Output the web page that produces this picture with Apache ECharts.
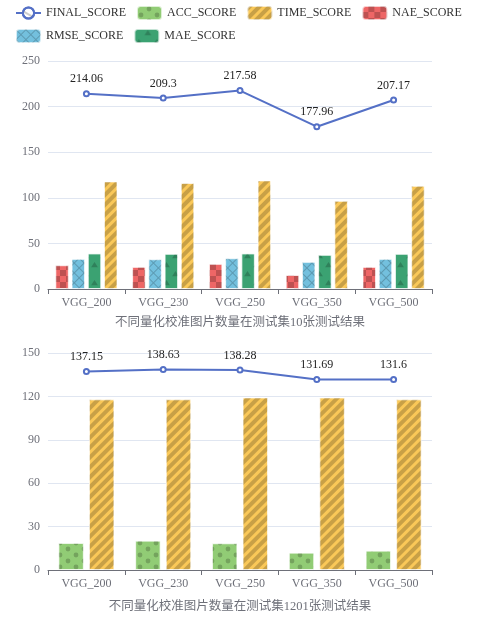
<!DOCTYPE html>
<html>
<head>
<meta charset="utf-8">
<script src="https://cdn.jsdelivr.net/npm/echarts@6/dist/echarts.min.js"></script>
<style>
html,body{margin:0;padding:0;background:#fff;}
#chart{width:480px;height:632px;}
</style>
</head>
<body>
<div id="chart"></div>
<script>
var categories = ['VGG_200', 'VGG_230', 'VGG_250', 'VGG_350', 'VGG_500'];
var legendRow1 = ['FINAL_SCORE', 'ACC_SCORE', 'TIME_SCORE', 'NAE_SCORE'];
var legendRow2 = ['RMSE_SCORE', 'MAE_SCORE'];

// Test set of 10 images (top chart)
var final10 = [214.06, 209.3, 217.58, 177.96, 207.17];
var nae10 = [26.1, 24.3, 27.6, 15.4, 24.3];
var rmse10 = [33.1, 32.7, 33.8, 29.8, 33.1];
var mae10 = [39.0, 38.6, 39.0, 37.5, 38.6];
var time10 = [118.0, 116.2, 119.1, 96.7, 113.2];

// Test set of 1201 images (bottom chart)
var final1201 = [137.15, 138.63, 138.28, 131.69, 131.6];
var acc1201 = [18.7, 20.3, 18.5, 12.0, 13.4];
var time1201 = [118.0, 118.0, 119.3, 119.3, 118.0];

var title10 = '不同量化校准图片数量在测试集10张测试结果';
var title1201 = '不同量化校准图片数量在测试集1201张测试结果';

var FONT = '"Liberation Serif", "Times New Roman", "Noto Sans CJK SC", serif';
var chart = echarts.init(document.getElementById('chart'), null, {renderer: 'canvas'});

function lineSeries(name, data, idx) {
  return {
    name: name, type: 'line', data: data,
    xAxisIndex: idx, yAxisIndex: idx,
    symbol: 'emptyCircle', symbolSize: 5,
    lineStyle: {width: 2},
    label: {show: true, position: 'top', color: '#222', fontSize: 12, fontFamily: FONT}
  };
}
function barSeries(name, data, idx) {
  return {name: name, type: 'bar', data: data, xAxisIndex: idx, yAxisIndex: idx, barGap: '20%',
          itemStyle: {borderColor: 'rgba(255,255,255,0.45)', borderWidth: 1}};
}
function legendRow(names, top) {
  return {
    data: names, top: top, left: 10,
    itemWidth: 25, itemHeight: 14, itemGap: 10, padding: 5,
    textStyle: {fontFamily: FONT, fontSize: 12, color: '#333'}
  };
}
var axisLabelStyle = {fontFamily: FONT, fontSize: 12, color: '#6E7079'};
var axisLineStyle = {show: true, lineStyle: {color: '#6E7079', width: 1}};
var splitLineStyle = {show: true, lineStyle: {color: '#E0E6F1', width: 1}};

var option = {
  animation: false,
  color: ['#5470c6', '#91cc75', '#fac858', '#ee6666', '#73c0de', '#3ba272'],
  aria: {enabled: true, decal: {show: true}},
  textStyle: {fontFamily: FONT, fontSize: 12},
  legend: [legendRow(legendRow1, 0), legendRow(legendRow2, 23)],
  title: [
    {text: title10, left: 'center', top: 316, padding: 0,
     textStyle: {fontFamily: FONT, fontSize: 12.5, fontWeight: 'normal', color: '#6E7079'}},
    {text: title1201, left: 'center', top: 600, padding: 0,
     textStyle: {fontFamily: FONT, fontSize: 12.5, fontWeight: 'normal', color: '#6E7079'}}
  ],
  grid: [
    {left: 48, right: 48, top: 61, height: 228},
    {left: 48, right: 48, top: 353, height: 217}
  ],
  xAxis: [
    {type: 'category', data: categories, gridIndex: 0,
     axisLine: axisLineStyle, axisTick: {show: true, lineStyle: {color: '#6E7079'}},
     axisLabel: axisLabelStyle},
    {type: 'category', data: categories, gridIndex: 1,
     axisLine: axisLineStyle, axisTick: {show: true, lineStyle: {color: '#6E7079'}},
     axisLabel: axisLabelStyle}
  ],
  yAxis: [
    {type: 'value', gridIndex: 0, min: 0, max: 250, interval: 50,
     splitLine: splitLineStyle, axisLabel: axisLabelStyle},
    {type: 'value', gridIndex: 1, min: 0, max: 150, interval: 30,
     splitLine: splitLineStyle, axisLabel: axisLabelStyle}
  ],
  series: [
    lineSeries('FINAL_SCORE', final1201, 1),
    barSeries('ACC_SCORE', acc1201, 1),
    barSeries('TIME_SCORE', time1201, 1),
    lineSeries('FINAL_SCORE', final10, 0),
    barSeries('NAE_SCORE', nae10, 0),
    barSeries('RMSE_SCORE', rmse10, 0),
    barSeries('MAE_SCORE', mae10, 0),
    barSeries('TIME_SCORE', time10, 0)
  ]
};
chart.setOption(option);
</script>
</body>
</html>
